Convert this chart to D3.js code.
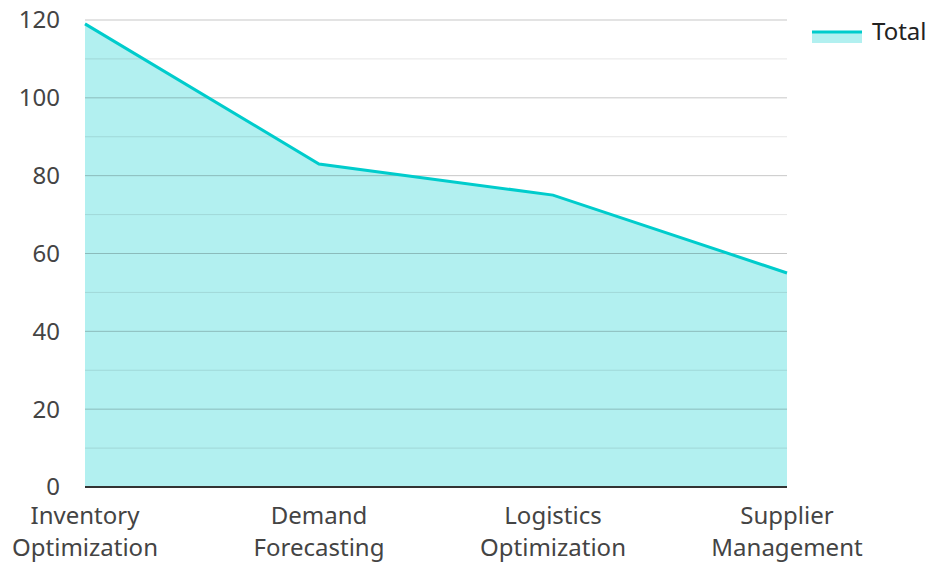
<!DOCTYPE html>
<html>
<head>
<meta charset="utf-8">
<script src="https://cdn.jsdelivr.net/npm/d3@7"></script>
<style>
  body { margin: 0; background: #fff; }
  text { font-family: "Noto Sans", "Open Sans", sans-serif; fill: #444; }
</style>
</head>
<body>
<svg id="chart" width="928" height="563"></svg>
<script>
// chart data
var categories = [['Inventory', 'Optimization'], ['Demand', 'Forecasting'], ['Logistics', 'Optimization'], ['Supplier', 'Management']]
var totals = [119, 83, 75, 55]
var yTicks = [0, 20, 40, 60, 80, 100, 120]
var yMinorTicks = [10, 30, 50, 70, 90, 110]
var seriesName = 'Total'

var svg = d3.select('#chart')
var plotLeft = 85, plotRight = 787, plotTop = 20, plotBottom = 487

var x = d3.scalePoint()
    .domain(d3.range(categories.length))
    .range([plotLeft, plotRight])

var y = d3.scaleLinear()
    .domain([0, 120])
    .range([plotBottom, plotTop])

var area = d3.area()
    .x(function(d, i) { return x(i) })
    .y0(y(0))
    .y1(function(d) { return y(d) })

var line = d3.line()
    .x(function(d, i) { return x(i) })
    .y(function(d) { return y(d) })

// area fill first, gridlines show through on top
svg.append('path')
    .datum(totals)
    .attr('d', area)
    .attr('fill', '#00cccc')
    .attr('fill-opacity', 0.3)

svg.selectAll('.minor')
    .data(yMinorTicks)
    .enter().append('line')
    .attr('x1', plotLeft).attr('x2', plotRight)
    .attr('y1', function(d) { return y(d) })
    .attr('y2', function(d) { return y(d) })
    .attr('stroke', '#000')
    .attr('stroke-opacity', 0.1)
    .attr('stroke-width', 1)

svg.selectAll('.major')
    .data(yTicks.slice(1))
    .enter().append('line')
    .attr('x1', plotLeft).attr('x2', plotRight)
    .attr('y1', function(d) { return y(d) })
    .attr('y2', function(d) { return y(d) })
    .attr('stroke', '#000')
    .attr('stroke-opacity', 0.22)
    .attr('stroke-width', 1)

svg.append('path')
    .datum(totals)
    .attr('d', line)
    .attr('fill', 'none')
    .attr('stroke', '#00cccc')
    .attr('stroke-width', 3)

// baseline
svg.append('line')
    .attr('x1', plotLeft).attr('x2', plotRight)
    .attr('y1', y(0)).attr('y2', y(0))
    .attr('stroke', '#333')
    .attr('stroke-width', 2)

// y tick labels
svg.selectAll('.ylab')
    .data(yTicks)
    .enter().append('text')
    .attr('x', 60)
    .attr('y', function(d) { return y(d) })
    .attr('dy', '0.35em')
    .attr('text-anchor', 'end')
    .style('font-size', '24px')
    .text(function(d) { return d })

// category labels
var xl = svg.selectAll('.xlab')
    .data(categories)
    .enter().append('text')
    .attr('text-anchor', 'middle')
    .style('font-size', '24px')

xl.each(function(d, i) {
    var t = d3.select(this)
    d.forEach(function(s, j) {
        t.append('tspan')
            .attr('x', x(i))
            .attr('y', 524 + j * 32)
            .text(s)
    })
})

// legend
svg.append('rect')
    .attr('x', 812).attr('y', 32)
    .attr('width', 50).attr('height', 11)
    .attr('fill', '#00cccc')
    .attr('fill-opacity', 0.3)
svg.append('line')
    .attr('x1', 812).attr('x2', 862)
    .attr('y1', 32).attr('y2', 32)
    .attr('stroke', '#00cccc')
    .attr('stroke-width', 3)
svg.append('text')
    .attr('x', 872).attr('y', 32)
    .attr('dy', '0.35em')
    .style('font-size', '24px')
    .style('fill', '#222')
    .text(seriesName)
</script>
</body>
</html>
